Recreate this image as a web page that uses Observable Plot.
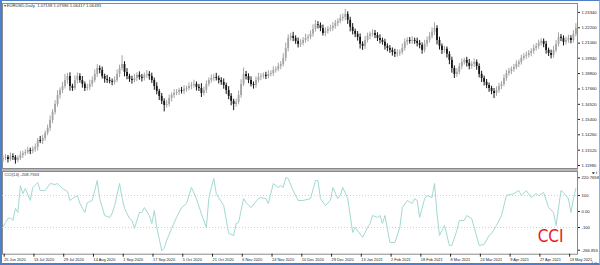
<!DOCTYPE html>
<html><head><meta charset="utf-8">
<script src="https://cdn.jsdelivr.net/npm/d3@7"></script>
<script src="https://cdn.jsdelivr.net/npm/@observablehq/plot@0.6"></script>
<style>
html,body{margin:0;padding:0;background:#fff;}
#wrap{position:relative;width:600px;height:265px;overflow:hidden;background:#fff;}
#wrap svg{position:absolute;left:0;}
#sep{position:absolute;left:2px;top:168px;width:576px;height:3px;background:#b8b8b8;}
#frame{position:absolute;left:0;top:0;width:600px;height:265px;box-sizing:border-box;border-left:2px solid #4f7fc6;border-top:1px solid #4f7fc6;border-bottom:2px solid #4f7fc6;border-right:1px solid #8fb0dc;pointer-events:none;}
</style></head><body><div id="wrap"><div id="sep"></div></div>
<script>
// ---- data ----
const headerText = "\u25BE EURUSD,Daily  1.07138 1.07386 1.06417 1.06493";
const cciHeader = "CCI(14) -208.7553";
const firstOpen = 1.1240;
const closes = [
1.1251,1.1258,1.1243,1.1265,1.1258,1.1236,1.1251,1.1273,1.1288,1.1295,1.1310,1.1303,
1.1318,1.1332,1.1384,1.1377,1.1399,1.1436,1.1473,1.1533,1.1592,1.1651,1.1718,1.1755,
1.1785,1.1829,1.1859,1.1785,1.1770,1.1829,1.1859,1.1829,1.1800,1.1770,1.1778,1.1800,
1.1829,1.1874,1.1918,1.1904,1.1859,1.1837,1.1829,1.1822,1.1815,1.1829,1.1874,1.1918,
1.1948,1.1889,1.1859,1.1837,1.1829,1.1844,1.1867,1.1852,1.1844,1.1867,1.1874,1.1859,
1.1829,1.1785,1.1748,1.1711,1.1674,1.1644,1.1651,1.1696,1.1718,1.1733,1.1740,1.1755,
1.1748,1.1763,1.1770,1.1785,1.1792,1.1800,1.1778,1.1770,1.1733,1.1755,1.1800,1.1829,
1.1844,1.1852,1.1844,1.1829,1.1815,1.1792,1.1755,1.1711,1.1674,1.1651,1.1666,1.1718,
1.1800,1.1874,1.1859,1.1829,1.1800,1.1792,1.1829,1.1852,1.1859,1.1867,1.1859,1.1874,
1.1881,1.1904,1.1911,1.1933,1.1948,1.1993,1.2067,1.2141,1.2156,1.2141,1.2119,1.2097,
1.2104,1.2126,1.2141,1.2149,1.2171,1.2208,1.2245,1.2238,1.2215,1.2178,1.2193,1.2208,
1.2215,1.2230,1.2252,1.2267,1.2289,1.2297,1.2319,1.2275,1.2223,1.2193,1.2171,1.2149,
1.2097,1.2082,1.2126,1.2156,1.2171,1.2178,1.2163,1.2141,1.2126,1.2112,1.2082,1.2067,
1.2052,1.2037,1.2023,1.2030,1.2037,1.2067,1.2112,1.2126,1.2119,1.2126,1.2119,1.2104,
1.2089,1.2052,1.2097,1.2126,1.2156,1.2186,1.2215,1.2126,1.2082,1.2052,1.2060,1.2023,
1.1978,1.1918,1.1874,1.1889,1.1933,1.1963,1.1978,1.1956,1.1933,1.1948,1.1963,1.1933,
1.1874,1.1844,1.1815,1.1792,1.1770,1.1748,1.1733,1.1755,1.1785,1.1800,1.1844,1.1881,
1.1896,1.1911,1.1926,1.1948,1.1963,1.1993,1.2008,1.2015,1.2030,1.2045,1.2067,1.2082,
1.2104,1.2119,1.2097,1.2052,1.2030,1.2015,1.2052,1.2097,1.2149,1.2141,1.2112,1.2126,
1.2141,1.2126,1.2171,1.2215];
const hiPips = [
18,22,15,25,20,14,19,28,16,21,24,17,
20,26,15,30,22,18,25,33,21,28,35,19,
30,45,22,27,16,34,25,20,29,18,23,31,
26,35,28,19,24,17,30,22,18,27,33,25,
65,20,28,16,24,31,19,26,22,17,29,21,
24,18,27,15,22,19,30,25,18,27,21,16,
23,28,17,25,20,31,18,22,35,24,27,19,
26,22,30,18,21,25,17,28,20,16,24,33,
35,48,22,19,27,18,25,30,21,17,23,28,
20,26,18,24,21,35,40,27,22,30,19,25,
28,22,31,19,26,34,29,21,18,25,27,20,
24,30,22,19,27,25,38,20,23,28,17,21,
25,19,30,24,18,27,22,20,26,17,23,19,
21,18,24,27,19,32,25,20,22,28,17,24,
22,19,30,25,28,33,42,20,24,18,22,17,
20,24,19,28,22,26,17,23,29,21,25,18,
19,23,17,21,18,16,22,27,24,20,26,23,
24,19,22,27,18,23,20,25,21,19,26,22,
25,20,18,22,17,24,30,28,33,21,19,24,
23,20,28,35];
const loPips = [
20,17,26,15,22,28,18,16,23,19,15,24,
18,22,27,16,24,20,17,22,25,18,21,26,
24,19,27,35,22,17,26,20,28,23,19,25,
21,17,23,26,19,28,22,18,25,20,17,24,
20,33,25,22,27,18,24,21,26,19,23,28,
22,29,25,31,24,48,20,18,26,22,17,23,
19,24,21,17,25,20,27,23,30,19,22,18,
20,24,19,26,22,28,30,25,33,45,21,18,
22,17,26,24,19,27,21,18,25,20,23,19,
18,22,20,17,24,19,23,26,20,24,22,27,
23,19,21,26,18,22,20,27,24,19,25,21,
19,22,20,24,18,21,25,30,33,26,24,28,
35,30,22,19,25,20,24,23,26,21,28,25,
22,27,24,20,23,18,21,25,20,24,22,26,
25,28,19,22,20,18,24,33,27,30,22,28,
32,35,30,22,19,24,20,27,25,21,23,28,
26,30,27,24,29,25,38,22,20,24,18,21,
19,23,21,17,24,20,18,22,19,25,21,20,
22,19,25,28,23,26,21,18,20,24,27,19,
22,25,19,18];
const cciBar = [
0,1,2,3,4,5,6,7,8,9, 11,12,14,15,17,19,21,22,24,26,
27,28,30,31,33,34,36,38,39,41, 43,44,45,47,48,49,51,52,53,55,
56,57,59,60,61,62,64,65,66,68, 70,72,74,76,78,80,82,83,84,85,
86,87,89,91,93,94,95,97,98,100, 103,104,106,107,109,111,112,113,114,115,
117,119,121,124,126,127,128,130,132,133, 135,136,137,139,141,142,145,147,148,149,
151,152,153,154,156,158,160,161,163,165, 166,167,168,169,170,171,173,174,175,176,
177,178,180,181,183,184,186,187,189,190, 192,194,196,197,199,201,203,206,208,209,
211,213,215,216,218,220,222,223,225,226, 228,229,230,231];
const cciVal = [
-98,-70,-44,-40,-56,19,-6,162,112,144, 69,150,181,131,131,175,169,175,144,125,
69,81,100,50,-6,56,69,194,81,-25, -37,-12,37,175,87,19,-44,-56,-106,-6,
-6,25,-25,-75,6,-100,-244,-231,-181,-106, -37,25,50,150,81,-15,-100,81,150,206,
112,87,37,-137,-150,-75,-69,81,56,25, 81,87,81,50,175,150,162,150,212,206,
131,69,69,81,194,194,81,37,69,150, 81,100,150,81,-131,-100,-162,-100,-75,-25,
-37,-25,-75,-25,-194,-194,-100,25,69,50, 81,69,-37,19,81,100,87,175,-12,-150,
-119,-87,-212,-212,-119,-56,-56,-25,-44,-100, -212,-206,-150,-137,-87,-25,100,112,131,100,
131,87,112,100,119,25,-6,-87,131,119, 81,-6,80,144];
const priceTicks = [1.1198,1.1312,1.1426,1.1540,1.1652,1.1766,1.1880,1.1994,1.2106,1.2220,1.2334];
const cciTop = [220.7658], cciMid = [100, 0, -100], cciBottom = [-266.855];
const cciTickLabels = new Map([[220.7658,"220.7658"],[100,"100"],[0,"0.00"],[-100,"-100"],[-266.855,"-266.855"]]);
const cciLevels = [100,-100];
const dateTickBars = [0,12,24,36,48,60,72,84,96,108,120,132,144,156,168,180,192,204,216,228];
const dateTickLabels = ["25 Jun 2020","13 Jul 2020","29 Jul 2020","14 Aug 2020","1 Sep 2020","17 Sep 2020","5 Oct 2020","21 Oct 2020","6 Nov 2020","24 Nov 2020","10 Dec 2020","29 Dec 2020","13 Jan 2021","2 Feb 2021","18 Feb 2021","8 Mar 2021","24 Mar 2021","9 Apr 2021","27 Apr 2021","13 May 2021"];
const annotation = "CCI";

// ---- build ----
const bars = closes.map((c, i) => {
  const o = i ? closes[i - 1] : firstOpen;
  return {i, o, c, h: Math.max(o, c) + hiPips[i] / 10000, l: Math.min(o, c) - loPips[i] / 10000, up: c >= o};
});
const cci = cciBar.map((b, k) => ({i: b, v: cciVal[k]}));
const X = {type: "linear", domain: [-0.2, 231.65], range: [2, 577]};
const upCol = "#a4a4a4", dnCol = "#141414", frameCol = "#8a8a8a";
const baseStyle = {fontFamily: "'Liberation Sans', Arial, sans-serif", fontSize: "4.2px", color: "#222", background: "transparent", overflow: "visible"};

const price = Plot.plot({
  width: 600, height: 170,
  marginLeft: 2, marginRight: 23, marginTop: 3, marginBottom: 2,
  x: {...X, axis: null},
  y: {domain: [1.1176, 1.2400], axis: null},
  style: baseStyle,
  marks: [
    Plot.frame({stroke: frameCol}),
    Plot.ruleX(bars, {filter: d => d.up, x: "i", y1: "l", y2: "h", stroke: upCol, strokeWidth: 1}),
    Plot.ruleX(bars, {filter: d => !d.up, x: "i", y1: "l", y2: "h", stroke: dnCol, strokeWidth: 1}),
    Plot.ruleX(bars, {filter: d => d.up, x: "i", y1: "o", y2: "c", stroke: upCol, strokeWidth: 1.8}),
    Plot.ruleX(bars, {filter: d => !d.up, x: "i", y1: "o", y2: "c", stroke: dnCol, strokeWidth: 1.8}),
    Plot.axisY(priceTicks, {anchor: "right", tickSize: 2, tickPadding: 2, tickFormat: d => d.toFixed(5)}),
    Plot.text([headerText], {frameAnchor: "top-left", textAnchor: "start", lineAnchor: "top", dx: 1, dy: 0.5, fill: "#333"})
  ]
});
price.style.top = "0px";

const dateMap = new Map(dateTickBars.map((b, k) => [b, dateTickLabels[k]]));
const fmtCci = d => cciTickLabels.get(d);
const ind = Plot.plot({
  width: 600, height: 97,
  marginLeft: 2, marginRight: 23, marginTop: 3, marginBottom: 11.3,
  x: {...X, axis: null},
  y: {domain: [-266.855, 250.2], axis: null},
  style: baseStyle,
  marks: [
    Plot.frame({stroke: frameCol}),
    Plot.ruleY(cciLevels, {stroke: "#c4c4c4", strokeDasharray: "1,2", strokeWidth: 0.8}),
    Plot.line(cci, {x: "i", y: "v", stroke: "#a2d9d3", strokeWidth: 1}),
    Plot.axisY(cciMid, {anchor: "right", tickSize: 2, tickPadding: 2, tickFormat: fmtCci}),
    Plot.axisY(cciTop, {anchor: "right", tickSize: 2, tickPadding: 2, dy: 1.5, tickFormat: fmtCci}),
    Plot.axisY(cciBottom, {anchor: "right", tickSize: 2, tickPadding: 2, dy: -4, tickFormat: fmtCci}),
    Plot.axisX(dateTickBars, {anchor: "bottom", tickSize: 3, tickPadding: 0.6, textAnchor: "start", dx: 1.2, fontSize: 3.9, tickFormat: d => dateMap.get(d)}),
    Plot.text([cciHeader], {frameAnchor: "top-left", textAnchor: "start", lineAnchor: "top", dx: 2, dy: 1.5, fill: "#333"}),
    Plot.text([annotation], {frameAnchor: "bottom-right", textAnchor: "end", lineAnchor: "middle", dx: -14, dy: -17.2, fill: "#e8191d", fontSize: 17, fontFamily: "'Liberation Sans Narrow','DejaVu Sans Condensed','Liberation Sans',sans-serif"})
  ]
});
ind.style.top = "168px";

const wrap = document.getElementById("wrap");
wrap.appendChild(price);
wrap.appendChild(ind);
const fr = document.createElement("div"); fr.id = "frame"; wrap.appendChild(fr);
</script>
</body></html>
